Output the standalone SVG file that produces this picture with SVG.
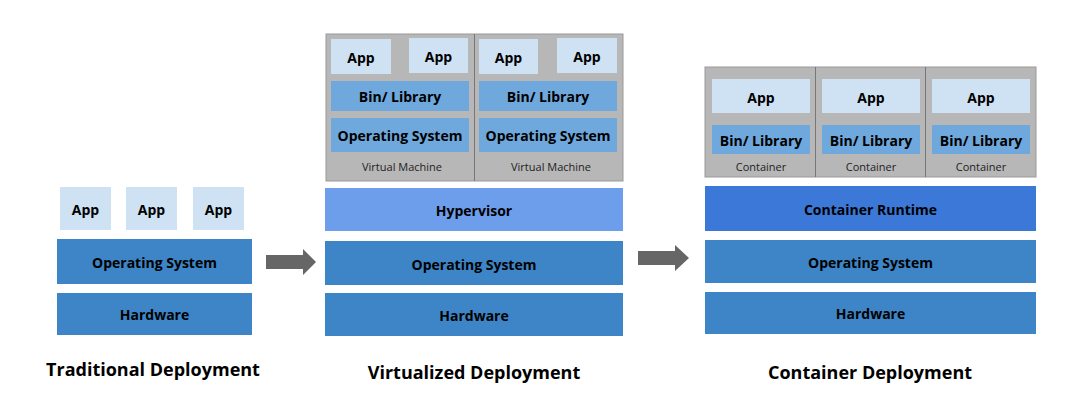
<svg xmlns="http://www.w3.org/2000/svg" width="1070" height="408" viewBox="0 0 1070 408">
<style>
text{font-family:"Open Sans","DejaVu Sans",sans-serif;font-weight:bold;fill:#000;text-anchor:middle;dominant-baseline:central}
.app{fill:#cfe2f3}.os{fill:#3d85c6}.bin{fill:#6fa8dc}.hv{fill:#6d9eeb}.rt{fill:#3c78d8}
.vm{fill:#b7b7b7;stroke:#999;stroke-width:1}
.t{font-size:14px}.s{font-size:11px;font-weight:normal;fill:#222}.h{font-size:18px}
.arr{fill:#666}
</style>
<g id="traditional">
<rect class="app" x="60" y="187" width="51" height="43"/><text class="t" x="85.5" y="209">App</text>
<rect class="app" x="126" y="187" width="51" height="43"/><text class="t" x="151.5" y="209">App</text>
<rect class="app" x="193" y="187" width="51" height="43"/><text class="t" x="218.5" y="209">App</text>
<rect class="os" x="57" y="239" width="195" height="45"/><text class="t" x="154.5" y="262">Operating System</text>
<rect class="os" x="57" y="293" width="195" height="42"/><text class="t" x="154.5" y="314">Hardware</text>
<text class="h" x="153" y="369">Traditional Deployment</text>
</g>
<g id="virtualized">
<rect class="vm" x="326" y="34" width="297" height="147"/>
<line x1="474.5" y1="34" x2="474.5" y2="181" stroke="#777"/>
<rect class="app" x="331" y="39" width="60" height="35"/><text class="t" x="361" y="57">App</text>
<rect class="app" x="409" y="38" width="59" height="35"/><text class="t" x="438.5" y="56">App</text>
<rect class="app" x="479" y="39" width="59" height="35"/><text class="t" x="508.5" y="57">App</text>
<rect class="app" x="557" y="38" width="60" height="35"/><text class="t" x="587" y="56">App</text>
<rect class="bin" x="331" y="81" width="138" height="30"/><text class="t" x="400" y="96">Bin/ Library</text>
<rect class="bin" x="479" y="81" width="138" height="30"/><text class="t" x="548" y="96">Bin/ Library</text>
<rect class="bin" x="331" y="118" width="138" height="34"/><text class="t" x="400" y="135">Operating System</text>
<rect class="bin" x="479" y="118" width="138" height="34"/><text class="t" x="548" y="135">Operating System</text>
<text class="s" x="402" y="166">Virtual Machine</text>
<text class="s" x="551" y="166">Virtual Machine</text>
<rect class="hv" x="325" y="188" width="298" height="43"/><text class="t" x="474" y="210">Hypervisor</text>
<rect class="os" x="325" y="241" width="298" height="44"/><text class="t" x="474" y="264">Operating System</text>
<rect class="os" x="325" y="293" width="298" height="43"/><text class="t" x="474" y="315">Hardware</text>
<text class="h" x="474" y="372">Virtualized Deployment</text>
</g>
<g id="container">
<rect class="vm" x="705" y="67" width="331" height="110"/>
<line x1="815.5" y1="67" x2="815.5" y2="177" stroke="#777"/>
<line x1="925.5" y1="67" x2="925.5" y2="177" stroke="#777"/>
<rect class="app" x="712" y="79" width="98" height="34"/><text class="t" x="761" y="97">App</text>
<rect class="app" x="822" y="79" width="98" height="34"/><text class="t" x="871" y="97">App</text>
<rect class="app" x="932" y="79" width="98" height="34"/><text class="t" x="981" y="97">App</text>
<rect class="bin" x="712" y="125" width="98" height="29"/><text class="t" x="761" y="140">Bin/ Library</text>
<rect class="bin" x="822" y="125" width="98" height="29"/><text class="t" x="871" y="140">Bin/ Library</text>
<rect class="bin" x="932" y="125" width="98" height="29"/><text class="t" x="981" y="140">Bin/ Library</text>
<text class="s" x="761" y="166">Container</text>
<text class="s" x="871" y="166">Container</text>
<text class="s" x="981" y="166">Container</text>
<rect class="rt" x="705" y="186" width="331" height="45"/><text class="t" x="870.5" y="209">Container Runtime</text>
<rect class="os" x="705" y="240" width="331" height="43"/><text class="t" x="870.5" y="262">Operating System</text>
<rect class="os" x="705" y="292" width="331" height="42"/><text class="t" x="870.5" y="313">Hardware</text>
<text class="h" x="870" y="372">Container Deployment</text>
</g>
<g id="connectors">
<polygon class="arr" points="266,255 303,255 303,249 316,262 303,275 303,269 266,269"/>
<polygon class="arr" points="638,251 675,251 675,245 689,258 675,271 675,265 638,265"/>
</g>
</svg>
